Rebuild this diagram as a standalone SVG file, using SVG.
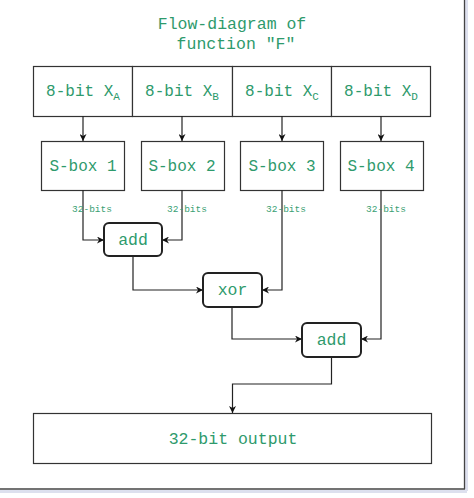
<svg xmlns="http://www.w3.org/2000/svg" width="474" height="498" viewBox="0 0 474 498">
<defs>
<style>
.t{font-family:"Liberation Mono","Courier New",monospace;fill:#2e9a6c;text-anchor:middle}
.box{fill:#fff;stroke:#333;stroke-width:1.2}
.op{fill:#fff;stroke:#222;stroke-width:2}
.c{fill:none;stroke:#222;stroke-width:1.2}
.lbl{font-family:"Liberation Mono","Courier New",monospace;fill:#3a9f74;font-size:9.5px;text-anchor:middle}
</style>
<marker id="ah" viewBox="0 0 10 10" refX="10" refY="5" markerWidth="7" markerHeight="7" orient="auto" markerUnits="userSpaceOnUse">
<path d="M0,0 L10,5 L0,10 L3,5 Z" fill="#111"/>
</marker>
</defs>
<rect width="474" height="498" fill="#fff"/>
<g id="frame">
<line x1="466.5" y1="0" x2="466.5" y2="491" stroke="#dde0ee" stroke-width="3"/>
<line x1="0" y1="491.5" x2="467" y2="491.5" stroke="#dde0ee" stroke-width="3"/>
<line x1="464.5" y1="0" x2="464.5" y2="489" stroke="#444" stroke-width="1.3"/>
<line x1="0" y1="489" x2="465" y2="489" stroke="#444" stroke-width="1.3"/>
</g>
<g id="title">
<text class="t" x="232" y="29" font-size="16.5">Flow-diagram of</text>
<text class="t" x="236" y="49" font-size="16.5">function "F"</text>
</g>
<g id="xa"><rect class="box" x="33.5" y="66.5" width="99" height="50"/><text class="t" x="83" y="96" font-size="16">8-bit X<tspan font-size="11" dy="4">A</tspan></text></g>
<g id="xb"><rect class="box" x="132.5" y="66.5" width="100" height="50"/><text class="t" x="182" y="96" font-size="16">8-bit X<tspan font-size="11" dy="4">B</tspan></text></g>
<g id="xc"><rect class="box" x="232.5" y="66.5" width="99" height="50"/><text class="t" x="282" y="96" font-size="16">8-bit X<tspan font-size="11" dy="4">C</tspan></text></g>
<g id="xd"><rect class="box" x="331.5" y="66.5" width="99" height="50"/><text class="t" x="381" y="96" font-size="16">8-bit X<tspan font-size="11" dy="4">D</tspan></text></g>
<g id="sbox1"><rect class="box" x="41.5" y="141.5" width="83" height="49"/><text class="t" x="83" y="171" font-size="16">S-box 1</text></g>
<g id="sbox2"><rect class="box" x="141.5" y="141.5" width="83" height="49"/><text class="t" x="182" y="171" font-size="16">S-box 2</text></g>
<g id="sbox3"><rect class="box" x="240.5" y="141.5" width="83" height="49"/><text class="t" x="282" y="171" font-size="16">S-box 3</text></g>
<g id="sbox4"><rect class="box" x="340.5" y="141.5" width="83" height="49"/><text class="t" x="381" y="171" font-size="16">S-box 4</text></g>
<g id="connectors">
<line class="c" x1="83" y1="116" x2="83" y2="141" marker-end="url(#ah)"/>
<line class="c" x1="182" y1="116" x2="182" y2="141" marker-end="url(#ah)"/>
<line class="c" x1="282" y1="116" x2="282" y2="141" marker-end="url(#ah)"/>
<line class="c" x1="381" y1="116" x2="381" y2="141" marker-end="url(#ah)"/>
<polyline class="c" points="83,190 83,240 104,240" marker-end="url(#ah)"/>
<polyline class="c" points="182,190 182,240 162,240" marker-end="url(#ah)"/>
<polyline class="c" points="133,256 133,290 203,290" marker-end="url(#ah)"/>
<polyline class="c" points="282,190 282,290 262,290" marker-end="url(#ah)"/>
<polyline class="c" points="232,307 232,339 302,339" marker-end="url(#ah)"/>
<polyline class="c" points="381,190 381,339 361,339" marker-end="url(#ah)"/>
<polyline class="c" points="331.5,356 331.5,384 232.5,384 232.5,413" marker-end="url(#ah)"/>
<text class="lbl" x="92" y="212">32-bits</text>
<text class="lbl" x="187" y="212">32-bits</text>
<text class="lbl" x="286" y="212">32-bits</text>
<text class="lbl" x="386" y="212">32-bits</text>
</g>
<g id="add1"><rect class="op" x="104" y="223" width="58" height="33" rx="5"/><text class="t" x="133" y="245" font-size="16.5">add</text></g>
<g id="xor"><rect class="op" x="203" y="273" width="59" height="34" rx="5"/><text class="t" x="232.5" y="295" font-size="16.5">xor</text></g>
<g id="add2"><rect class="op" x="302" y="323" width="59" height="34" rx="5"/><text class="t" x="331.5" y="345" font-size="16.5">add</text></g>
<g id="output"><rect class="box" x="33.5" y="413.5" width="398" height="50"/><text class="t" x="233" y="444" font-size="16.5">32-bit output</text></g>
</svg>
